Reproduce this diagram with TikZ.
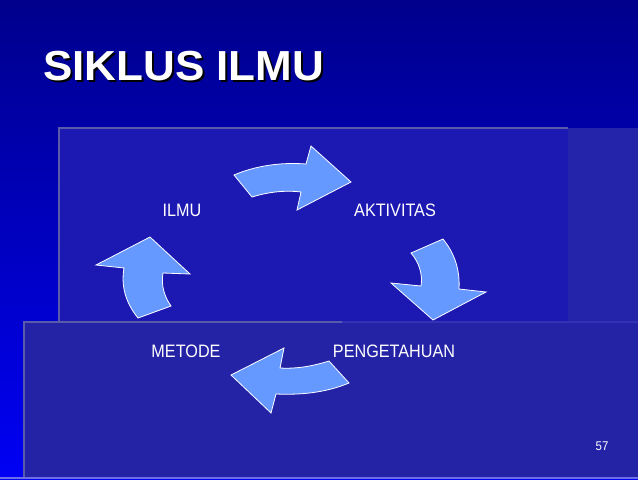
\documentclass[tikz,border=0pt]{standalone}
\usepackage{fontspec}
\setmainfont{Liberation Sans}
\definecolor{bgtop}{RGB}{0,0,140}
\definecolor{bgbot}{RGB}{0,0,245}
\definecolor{panA}{RGB}{28,24,178}
\definecolor{panAr}{RGB}{36,36,170}
\definecolor{panB}{RGB}{36,34,165}
\definecolor{edgeA}{RGB}{90,90,170}
\definecolor{edgeB}{RGB}{50,50,180}
\definecolor{edgeC}{RGB}{110,110,230}
\definecolor{arr}{RGB}{102,153,255}
\begin{document}
\begin{tikzpicture}[x=0.75pt,y=-0.75pt,
  cyc/.style={fill=arr,draw=white,line width=0.6pt,line join=miter},
  lab/.style={text=white,font=\fontsize{13.5}{15}\selectfont,inner sep=0pt,xscale=0.9}]
\useasboundingbox (0,0) rectangle (638,479);
\shade[top color=bgtop,bottom color=bgbot] (0,0) rectangle (638,479);
% upper panel
\fill[panA] (59,128) rectangle (638,479);
\fill[panAr] (568,128) rectangle (638,322);
\draw[edgeA,line width=1pt] (59,479) -- (59,128) -- (568,128);
% lower panel
\fill[panB] (24,322) rectangle (638,477);
\draw[edgeA,line width=1pt] (24,477) -- (24,322) -- (342,322);
\draw[edgeB,line width=0.8pt] (342,322) -- (638,322);
\draw[edgeC,line width=1pt] (0,478) -- (638,478);
% title
\node[text=black,font=\bfseries\fontsize{30}{32}\selectfont,anchor=west,xscale=1.1,yscale=1.05] at (40,68) {SIKLUS ILMU};
\node[text=white,font=\bfseries\fontsize{30}{32}\selectfont,anchor=west,xscale=1.1,yscale=1.05] (title) at (38,66) {SIKLUS ILMU};
% labels
\node[lab] (ilmu) at (182,210) {ILMU};
\node[lab] (akt) at (395,210) {AKTIVITAS};
\node[lab] (met) at (186,351) {METODE};
\node[lab] (pen) at (394,351) {PENGETAHUAN};
\node[lab,font=\fontsize{9.5}{10}\selectfont] (num) at (602,446) {57};
% arrows
\path[cyc] (234,175) .. controls (255,166) and (280,162) .. (306,164) -- (311,146) -- (351,182) -- (297,210) -- (301,192)
  .. controls (285,190) and (268,192) .. (252,197) -- cycle;
\path[cyc] (443,239) .. controls (455,254) and (460,270) .. (459,289) -- (486,292) -- (433,320) -- (391,283) -- (421,286)
  .. controls (423,275) and (419,262) .. (411,253) -- cycle;
\path[cyc] (349,383) .. controls (325,393) and (300,395) .. (276,394) -- (271,413) -- (231,375) -- (284,348) -- (280,368)
  .. controls (297,369) and (313,366) .. (329,361) -- cycle;
\path[cyc] (138,318) .. controls (125,302) and (121,285) .. (124,268) -- (96,265) -- (150,237) -- (190,274) -- (163,273)
  .. controls (161,285) and (164,296) .. (171,306) -- cycle;
\end{tikzpicture}
\end{document}
